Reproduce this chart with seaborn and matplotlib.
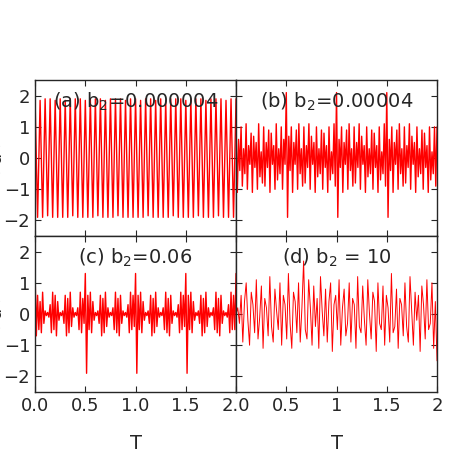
import matplotlib
matplotlib.use("Agg")
import matplotlib.pyplot as plt
import seaborn as sns
import numpy as np

sns.set_style("ticks")
plt.rcParams['font.family'] = ['DejaVu Sans']

labels = ["(a) b$_2$=0.000004", "(b) b$_2$=0.00004", "(c) b$_2$=0.06", "(d) b$_2$ = 10"]

da = [1.9,-1.9,1.85,-1.9,1.9,-1.85,1.9,-1.9,1.85,-1.9,1.9,-1.9,1.85,-1.9,1.9,-1.85,1.9,-1.9,1.9,-1.9,
      1.85,-1.9,1.9,-1.9,1.9,-1.85,1.9,-1.9,1.85,-1.9,1.9,-1.9,1.9,-1.85,1.9,-1.9,1.85,-1.9,1.9,-1.9,
      1.9,-1.9,1.85,-1.9,1.9,-1.85,1.9,-1.9,1.85,-1.9,1.9,-1.9,1.85,-1.9,1.9,-1.85,1.9,-1.9,1.9,-1.9,
      1.85,-1.9,1.9,-1.9,1.9,-1.85,1.9,-1.9,1.85,-1.9,1.9,-1.9,1.9,-1.85,1.9,-1.9,1.85,-1.9,1.9,-1.9,1.9]

db = [0.9,-1.1,0.6,-0.4,1.0,-0.9,0.3,-0.5,1.1,-1.0,0.4,-0.2,0.8,-1.1,0.7,-0.3,0.5,-1.0,1.1,-0.6,
      0.2,-0.8,1.0,-0.9,0.5,-0.3,0.9,-1.1,0.8,-0.2,0.4,-1.0,1.1,-0.7,0.3,-0.5,1.0,-1.0,0.6,-0.2,
      2.1,-1.9,0.7,-0.4,1.0,-1.1,0.5,-0.2,0.9,-1.0,1.1,-0.5,0.3,-0.9,1.0,-0.8,0.4,-0.3,1.1,-1.0,
      0.7,-0.2,0.5,-1.1,1.0,-0.6,0.3,-0.5,0.9,-1.0,0.8,-0.3,0.4,-1.1,1.0,-0.7,0.2,-0.5,1.1,-0.9,
      2.1,-1.9,0.6,-0.3,1.0,-1.1,0.5,-0.2,0.9,-1.0,1.1,-0.4,0.3,-0.9,1.0,-0.8,0.5,-0.3,1.1,-1.0,
      0.7,-0.2,0.4,-1.1,1.0,-0.6,0.3,-0.5,0.9,-1.0,0.8,-0.3,0.4,-1.1,1.0,-0.7,0.2,-0.5,1.1,-0.9,
      2.1,-1.9,0.6,-0.4,1.0,-1.1,0.5,-0.2,0.9,-1.0,1.1,-0.5,0.3,-0.9,1.0,-0.8,0.4,-0.3,1.1,-1.0,
      0.7,-0.2,0.5,-1.1,1.0,-0.6,0.3,-0.5,0.9,-1.0,0.8,-0.3,0.4,-1.1,1.0,-0.7,0.2,-0.5,1.0,-0.9,1.0]

dc = [1.3,-0.7,0.6,-0.5,0.4,-0.6,0.7,-0.3,0.1,-0.05,0.05,-0.1,0.3,-0.6,0.7,-0.5,0.6,-0.7,0.4,-0.2,
      0.05,-0.05,0.1,-0.3,0.6,-0.7,0.5,-0.6,0.7,-0.4,0.2,-0.1,0.05,-0.05,0.2,-0.5,0.7,-0.6,0.5,-0.3,
      1.3,-1.9,0.6,-0.5,0.7,-0.6,0.4,-0.2,0.05,-0.05,0.1,-0.3,0.6,-0.7,0.5,-0.6,0.7,-0.4,0.2,-0.1,
      0.05,-0.05,0.2,-0.5,0.7,-0.6,0.5,-0.7,0.6,-0.3,0.1,-0.05,0.05,-0.1,0.3,-0.6,0.7,-0.5,0.6,-0.4,
      1.3,-1.9,0.6,-0.5,0.7,-0.6,0.4,-0.2,0.05,-0.05,0.1,-0.3,0.6,-0.7,0.5,-0.6,0.7,-0.4,0.2,-0.1,
      0.05,-0.05,0.2,-0.5,0.7,-0.6,0.5,-0.7,0.6,-0.3,0.1,-0.05,0.05,-0.1,0.3,-0.6,0.7,-0.5,0.6,-0.4,
      1.3,-1.9,0.6,-0.5,0.7,-0.6,0.4,-0.2,0.05,-0.05,0.1,-0.3,0.6,-0.7,0.5,-0.6,0.7,-0.4,0.2,-0.1,
      0.05,-0.05,0.2,-0.5,0.7,-0.6,0.5,-0.7,0.6,-0.3,0.1,-0.05,0.05,-0.1,0.3,-0.6,0.7,-0.5,0.6,-0.5,1.3]

dd = [0.0,0.2,-0.3,0.6,-0.9,0.4,1.0,-0.2,-1.0,0.7,0.3,-0.6,1.1,-0.8,-0.1,0.9,-1.1,0.5,0.2,-0.7,
      1.2,-0.4,-0.9,0.8,0.1,-0.5,1.0,-1.0,0.6,0.3,-0.8,1.3,-0.3,-1.1,0.7,0.4,-0.6,1.0,-0.9,0.2,
      1.7,-0.5,-0.8,1.1,0.2,-1.0,0.9,-0.4,0.5,-1.1,1.2,0.1,-0.7,0.8,-0.9,0.4,1.0,-1.2,0.3,0.6,
      -0.5,1.1,-1.0,0.2,0.8,-0.7,-0.3,1.0,-0.9,0.5,0.3,-1.1,1.2,-0.4,-0.6,0.9,-0.2,-1.0,1.1,0.0,
      -0.8,0.7,0.4,-1.2,1.0,-0.3,-0.5,0.9,-1.0,0.6,0.2,-0.9,1.3,-0.6,-0.4,0.8,-1.1,0.5,0.3,-0.7,
      1.0,-0.4,-0.9,1.2,0.1,-1.0,0.7,-0.2,0.6,-1.2,0.9,0.3,-0.8,1.1,-0.5,-0.3,1.0,-1.1,0.4,-1.5]

series = [da, db, dc, dd]

fig, axes = plt.subplots(2, 2, figsize=(4.74, 4.74), dpi=100)
fig.subplots_adjust(left=0.074, right=0.922, top=0.831, bottom=0.173, wspace=0, hspace=0)

for i, ax in enumerate(axes.flat):
    y = np.array(series[i])
    x = np.linspace(0, 2, len(y))
    lw = 0.7 if i == 3 else 1.0
    sns.lineplot(x=x, y=y, ax=ax, color='#ff0000', lw=lw)
    ax.set_xlim(0, 2)
    ax.set_ylim(-2.5, 2.5)
    ax.set_xticks([0, 0.5, 1, 1.5, 2])
    ax.set_yticks([-2, -1, 0, 1, 2])
    ax.tick_params(direction='in', top=True, right=True, labelsize=13, length=4)
    for s in ax.spines.values():
        s.set_linewidth(1.0)
    ax.text(0.5, 0.93, labels[i], transform=ax.transAxes, ha='center', va='top', fontsize=14)
    ax.set_xlabel('')
    ax.set_ylabel('')
    if i < 2:
        ax.set_xticklabels([])
    if i % 2 == 1:
        ax.set_yticklabels([])

axes[0, 0].set_ylabel('< d >', fontsize=13, labelpad=-2)
axes[1, 0].set_ylabel('< d >', fontsize=13, labelpad=-2)
for ax in axes[1]:
    ax.set_xlabel('T', fontsize=14, labelpad=14)
axes[1, 1].set_xticklabels(['', '0.5', '1', '1.5', '2'])

fig.savefig('out.png', dpi=100)
